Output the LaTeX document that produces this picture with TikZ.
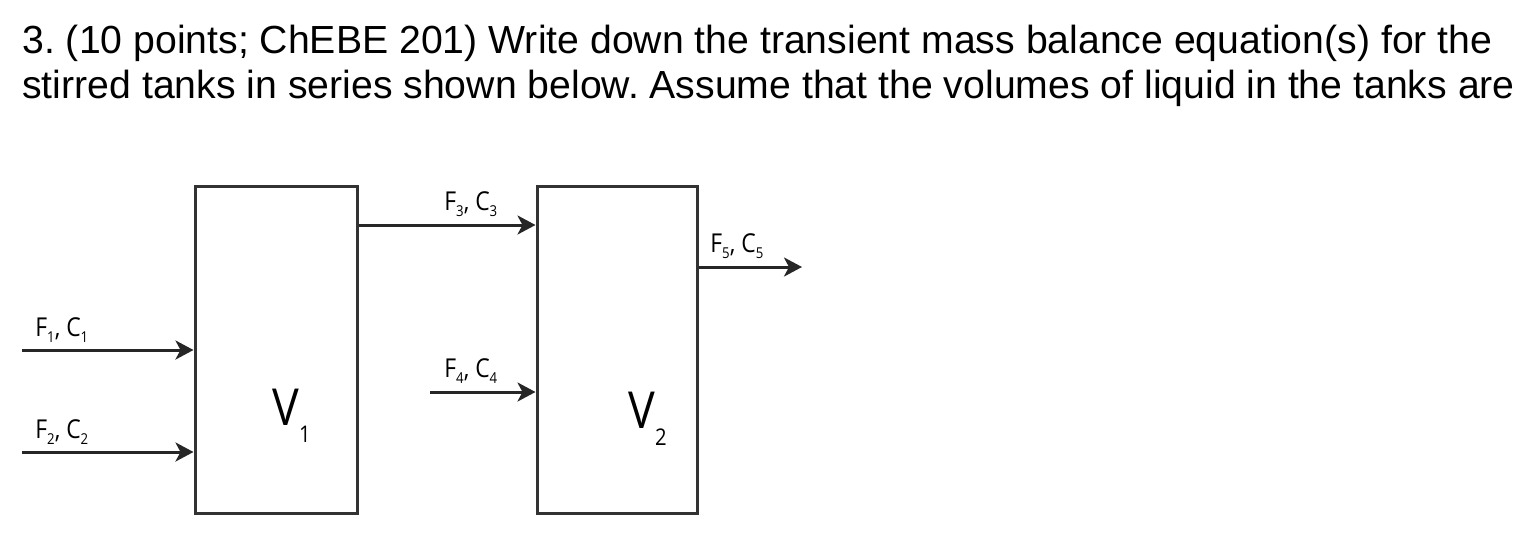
\documentclass[tikz,border=0pt]{standalone}
\usepackage{fontspec}
\setmainfont{Liberation Sans}
\newfontfamily\labelfont[FakeStretch=0.88]{Open Sans}
\usetikzlibrary{arrows.meta}
\frenchspacing

\newcommand{\lowidx}[1]{\raisebox{-0.45ex}{\fontsize{7.5}{8}\selectfont #1}}
\newcommand{\tankidx}[1]{\raisebox{-0.65ex}{\fontsize{11.5}{12}\selectfont #1}}

\tikzset{
  tank/.style={draw=black!80, line width=1.5pt, rectangle, inner sep=0pt},
  stream/.style={draw=black!85, line width=1.5pt, -{Stealth[length=9pt, width=9.5pt, inset=2.5pt]}},
  flowlabel/.style={font=\labelfont\fontsize{13}{14}\selectfont, inner sep=0pt, anchor=base west},
  tanklabel/.style={font=\labelfont\fontsize{25.5}{26}\selectfont, inner sep=0pt, anchor=base west}
}

\begin{document}
\begin{tikzpicture}[x=0.5pt, y=-0.5pt]
\useasboundingbox (0,0) rectangle (1540,537);

  \node[anchor=base west, inner sep=0pt, font=\fontsize{19.6}{22.5}\selectfont] (q1) at (22,53)
     {3. (10 points; ChEBE 201) Write down the transient mass balance equation(s) for the};
  \node[anchor=base west, inner sep=0pt, font=\fontsize{19.6}{22.5}\selectfont] (q2) at (22,98)
     {stirred tanks in series shown below. Assume that the volumes of liquid in the tanks are};

  % tanks
  \node[tank, minimum width=81pt, minimum height=163.5pt] (tank1) at (276,349.5) {};
  \node[tank, minimum width=80pt, minimum height=163.5pt] (tank2) at (617,349.5) {};

  \node[tanklabel] (v1) at (272,425) {V\tankidx{1}};
  \node[tanklabel] (v2) at (628,428) {V\tankidx{2}};

  % free ends
  \coordinate (in1) at (22,350);
  \coordinate (in2) at (22,452);
  \coordinate (in4) at (430,392);
  \coordinate (out5) at (802,267);

  \draw[stream] (in1) -- (in1 -| tank1.west);
  \draw[stream] (in2) -- (in2 -| tank1.west);
  \draw[stream] (tank1.east |- 0,225) -- (tank2.west |- 0,225);
  \draw[stream] (in4) -- (in4 -| tank2.west);
  \draw[stream] (tank2.east |- out5) -- (out5);

  \node[flowlabel] (l1) at (35,336) {F\lowidx{1}, C\lowidx{1}};
  \node[flowlabel] (l2) at (35,438) {F\lowidx{2}, C\lowidx{2}};
  \node[flowlabel] (l3) at (444,210) {F\lowidx{3}, C\lowidx{3}};
  \node[flowlabel] (l4) at (444,377) {F\lowidx{4}, C\lowidx{4}};
  \node[flowlabel] (l5) at (710,252) {F\lowidx{5}, C\lowidx{5}};

\end{tikzpicture}
\end{document}
